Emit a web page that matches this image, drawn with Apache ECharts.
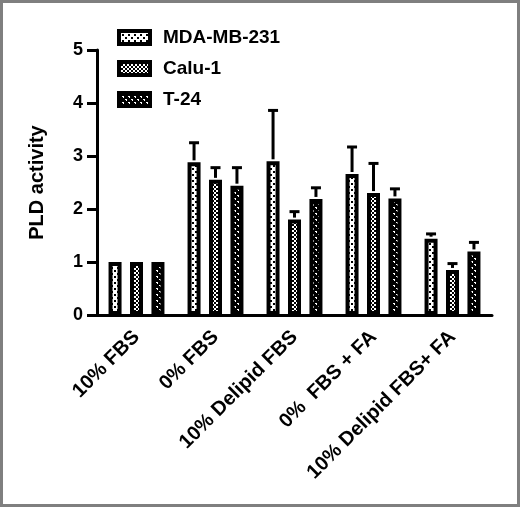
<!DOCTYPE html>
<html>
<head>
<meta charset="utf-8">
<script src="https://cdn.jsdelivr.net/npm/echarts@6/dist/echarts.min.js"></script>
<style>
  html, body { margin: 0; padding: 0; background: #fff; }
  #chart { width: 520px; height: 507px; }
</style>
</head>
<body>
<div id="chart"></div>
<script>
// 条件（x轴类别）
const categories = ['10% FBS', '0% FBS', '10% Delipid FBS', '0%  FBS + FA', '10% Delipid FBS+ FA']
const seriesNames = ['MDA-MB-231', 'Calu-1', 'T-24']

// 平均值
const mdaMean = [1.0, 2.88, 2.90, 2.66, 1.44]
const caluMean = [1.0, 2.55, 1.80, 2.30, 0.85]
const t24Mean = [1.0, 2.44, 2.19, 2.20, 1.20]

// 误差（只画上半部分）
const mdaErr = [0, 0.37, 0.96, 0.51, 0.09]
const caluErr = [0, 0.23, 0.15, 0.56, 0.12]
const t24Err = [0, 0.34, 0.21, 0.18, 0.17]

const yTicks = [0, 1, 2, 3, 4, 5]

const FONT = '"Liberation Sans", Arial, sans-serif'
const BAR_W = 13
const BAR_GAP = 0.65

// 填充图案
function makePattern(size, bg, fg, rects) {
  const c = document.createElement('canvas')
  c.width = size
  c.height = size
  const ctx = c.getContext('2d')
  ctx.fillStyle = bg
  ctx.fillRect(0, 0, size, size)
  ctx.fillStyle = fg
  rects.forEach(r => ctx.fillRect(r[0], r[1], r[2], r[3]))
  return { image: c, repeat: 'repeat' }
}

const patterns = [
  makePattern(6, '#fff', '#000', [[0, 0, 2, 2], [3, 3, 2, 2]]),
  makePattern(4, '#fff', '#000', [[0, 0, 2, 2], [2, 2, 2, 2]]),
  makePattern(6, '#000', '#fff', [[0, 0, 2, 1], [1, 1, 1, 1], [3, 3, 2, 1], [4, 4, 1, 1]])
]

const means = [mdaMean, caluMean, t24Mean]
const errs = [mdaErr, caluErr, t24Err]

// 误差棒数据 [类别, 系列, 顶端, 平均]
const errData = []
means.forEach((arr, s) => {
  arr.forEach((m, c) => {
    if (errs[s][c] > 0) errData.push([c, s, m + errs[s][c], m])
  })
})

function renderError(params, api) {
  const c = api.value(0)
  const s = api.value(1)
  const top = api.value(2)
  const mean = api.value(3)
  const base = api.coord([c, mean])
  const tp = api.coord([c, top])
  const x = base[0] + (s - 1) * BAR_W * (1 + BAR_GAP)
  const st = { stroke: '#000', lineWidth: 3 }
  return {
    type: 'group',
    children: [
      { type: 'line', shape: { x1: x, y1: base[1] - 2, x2: x, y2: tp[1] }, style: st },
      { type: 'line', shape: { x1: x - 5, y1: tp[1], x2: x + 5, y2: tp[1] }, style: st }
    ]
  }
}

const chart = echarts.init(document.getElementById('chart'))

const barSeries = seriesNames.map((name, i) => ({
  name: name,
  type: 'bar',
  data: means[i],
  barWidth: BAR_W,
  barGap: Math.round(BAR_GAP * 100) + '%',
  itemStyle: {
    color: patterns[i],
    borderColor: '#000',
    borderWidth: 4
  },
  emphasis: { disabled: true }
}))

const option = {
  animation: false,
  backgroundColor: '#fff',
  graphic: [{
    type: 'rect',
    shape: { x: 1.5, y: 1.5, width: 517, height: 504 },
    style: { fill: 'none', stroke: '#7f7f7f', lineWidth: 3 },
    z: 100
  }],
  legend: {
    data: seriesNames,
    orient: 'vertical',
    left: 117,
    top: 28,
    padding: 0,
    itemWidth: 31,
    itemHeight: 13,
    itemGap: 12,
    icon: 'rect',
    itemStyle: { borderColor: '#000', borderWidth: 4 },
    textStyle: {
      fontFamily: FONT,
      fontWeight: 'bold',
      fontSize: 19,
      color: '#000',
      padding: [0, 0, 0, 8]
    }
  },
  grid: {
    left: 97,
    right: 28,
    top: 50,
    bottom: 192
  },
  xAxis: {
    type: 'category',
    data: categories,
    axisLine: { lineStyle: { color: '#000', width: 3 } },
    axisTick: { alignWithLabel: true, length: 10, lineStyle: { color: '#000', width: 3 } },
    axisLabel: {
      interval: 0,
      rotate: 45,
      margin: 19,
      fontFamily: FONT,
      fontWeight: 'bold',
      fontSize: 20,
      color: '#000'
    }
  },
  yAxis: {
    type: 'value',
    min: yTicks[0],
    max: yTicks[yTicks.length - 1],
    interval: 1,
    name: 'PLD activity',
    nameLocation: 'middle',
    nameGap: 50,
    nameTextStyle: {
      fontFamily: FONT,
      fontWeight: 'bold',
      fontSize: 20,
      color: '#000'
    },
    axisLine: { show: true, lineStyle: { color: '#000', width: 3 } },
    axisTick: { show: true, length: 10, lineStyle: { color: '#000', width: 3 } },
    splitLine: { show: false },
    axisLabel: {
      margin: 14,
      fontFamily: FONT,
      fontWeight: 'bold',
      fontSize: 18,
      color: '#000'
    }
  },
  series: barSeries.concat([{
    name: 'err',
    type: 'custom',
    renderItem: renderError,
    data: errData,
    encode: { x: 0, y: 2 },
    z: 3,
    silent: true
  }])
}

chart.setOption(option)
</script>
</body>
</html>
